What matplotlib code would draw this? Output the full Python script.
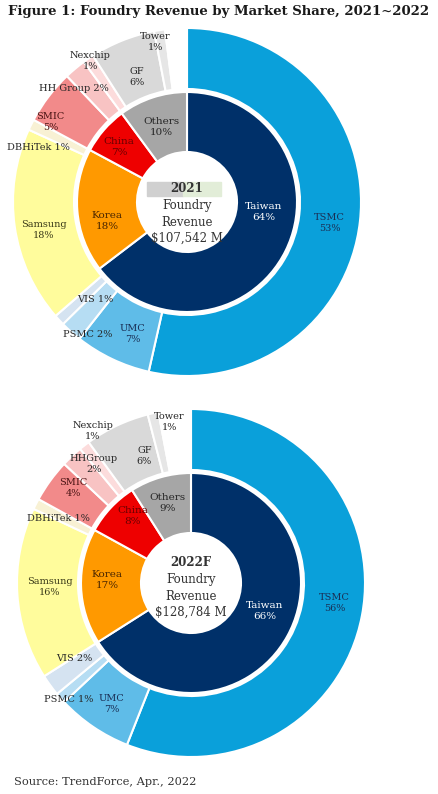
import numpy as np
import matplotlib.pyplot as plt
from matplotlib.patches import Rectangle

plt.rcParams['font.family'] = ['DejaVu Serif']

# inner ring: regional share (%)
regions = ['Taiwan', 'Korea', 'China', 'Others']
region_2021 = [64, 18, 7, 10]
region_2022 = [66, 17, 8, 9]

# outer ring: company share (%)
companies = ['TSMC', 'UMC', 'PSMC', 'VIS', 'Samsung', 'DBHiTek',
             'SMIC', 'HH Group', 'Nexchip', 'GF', 'Tower']
company_2021 = [53, 7, 2, 1, 18, 1, 5, 2, 1, 6, 1]
company_2022 = [56, 7, 1, 2, 16, 1, 4, 2, 1, 6, 1]

years = ['2021', '2022F']
revenue = ['$107,542 M', '$128,784 M']

region_colors = ['#003069', '#FF9900', '#EE0000', '#A6A6A6']
company_colors = ['#0AA0DA', '#5FBCE8', '#B6DDF3', '#D5E3F1', '#FFFC9C', '#F8F1D4',
                  '#F28A8A', '#F8C3C3', '#FCDCDC', '#D9D9D9', '#E6E6E6']
region_text = ['white', '#4A2600', '#6A0000', '#262626']
company_text = ['#1A2F55', '#1A2F55', '#262626', '#262626', '#3A3A18', '#262626',
                '#4A1414', '#262626', '#262626', '#262626', '#262626']

W, H = 438, 794

# layout of each chart: centre (px), label radius and angle nudge
charts = [
    dict(center=(187, 202),
         fmt=['{}\n{}%', '{}\n{}%', '{} {}%', '{} {}%', '{}\n{}%', '{} {}%',
              '{}\n{}%', '{} {}%', '{}\n{}%', '{}\n{}%', '{}\n{}%'],
         names=companies,
         out_r=[144, 143, 166, 134, 146, 158, 158, 160, 171, 135, 163],
         out_da=[-2, 3, 5, 4, 3, 6, 7, 5, 0, 0, 2],
         in_r=[77, 82, 87, 79], in_da=[19, 9, 2, 1],
         text_dy=-13),
    dict(center=(191, 583),
         fmt=['{}\n{}%', '{}\n{}%', '{} {}%', '{} {}%', '{}\n{}%', '{} {}%',
              '{}\n{}%', '{}\n{}%', '{}\n{}%', '{}\n{}%', '{}\n{}%'],
         names=[c.replace('HH Group', 'HHGroup') for c in companies],
         out_r=[145, 145, 169, 139, 141, 148, 151, 154, 181, 135, 162],
         out_da=[3, 1, 2, -3, -2, 1, -3, -4, -5, -5, -5],
         in_r=[79, 84, 89, 83], in_da=[8, -4, -6, 0],
         text_dy=-20),
]

R_OUT, R_MID, R_HOLE = 174, 111, 50

fig = plt.figure(figsize=(W / 100, H / 100), dpi=100)
ax = fig.add_axes([0, 0, 1, 1])

for k, (reg, comp) in enumerate([(region_2021, company_2021), (region_2022, company_2022)]):
    lay = charts[k]
    cx, cy = lay['center'][0], H - lay['center'][1]
    blank = sum(reg) - sum(comp)
    outer_vals = comp + [blank]
    outer_cols = company_colors + ['white']

    w_out, _ = ax.pie(outer_vals, radius=R_OUT, center=(cx, cy), startangle=90,
                      counterclock=False, colors=outer_cols,
                      wedgeprops=dict(width=R_OUT - R_MID - 2, edgecolor='white', linewidth=1.5))
    w_in, _ = ax.pie(reg, radius=R_MID - 1, center=(cx, cy), startangle=90,
                     counterclock=False, colors=region_colors,
                     wedgeprops=dict(width=R_MID - 1 - R_HOLE, edgecolor='white', linewidth=1.5))

    for i, w in enumerate(w_out[:-1]):
        a = np.radians((w.theta1 + w.theta2) / 2 + lay['out_da'][i])
        r = lay['out_r'][i]
        ax.text(cx + r * np.cos(a), cy + r * np.sin(a),
                lay['fmt'][i].format(lay['names'][i], comp[i]),
                ha='center', va='center', fontsize=7, color=company_text[i],
                linespacing=1.3)
    for i, w in enumerate(w_in):
        a = np.radians((w.theta1 + w.theta2) / 2 + lay['in_da'][i])
        r = lay['in_r'][i]
        ax.text(cx + r * np.cos(a), cy + r * np.sin(a),
                '{}\n{}%'.format(regions[i], reg[i]),
                ha='center', va='center', fontsize=7.5, color=region_text[i],
                linespacing=1.3)

    # centre text
    ty = cy - lay['text_dy']
    if k == 0:
        ax.add_patch(Rectangle((cx - 40, ty - 7), 36, 14, color='#D0D0D0', zorder=2))
        ax.add_patch(Rectangle((cx - 4, ty - 7), 38, 14, color='#E2EDD8', zorder=2))
    ax.text(cx, ty, years[k], ha='center', va='center', fontsize=8.5,
            fontweight='bold', color='#333333', zorder=3)
    ax.text(cx, ty - 33, 'Foundry\nRevenue\n' + revenue[k], ha='center', va='center',
            fontsize=8.5, color='#333333', linespacing=1.35, zorder=3)

ax.text(8, H - 12, 'Figure 1: Foundry Revenue by Market Share, 2021~2022',
        ha='left', va='center', fontsize=9.5, fontweight='bold', color='#1a1a1a')
ax.text(14, H - 782, 'Source: TrendForce, Apr., 2022',
        ha='left', va='center', fontsize=8.2, color='#333333')

ax.set_xlim(0, W)
ax.set_ylim(0, H)
ax.set_aspect('equal')
ax.axis('off')

fig.savefig('out.png', dpi=100)
